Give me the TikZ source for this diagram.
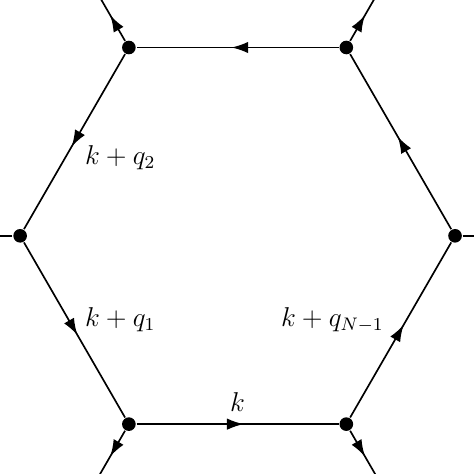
\documentclass[tikz,border=0pt]{standalone}
\usetikzlibrary{arrows.meta,decorations.markings}
\begin{document}
\begin{tikzpicture}[line width=0.8pt,
  vertex/.style={circle,fill,inner sep=0pt,minimum size=2.3mm},
  momentum/.style={font=\large,scale=1.09},
  mid arrow/.style={postaction={decorate,decoration={markings,
      mark=at position 0.53 with {\arrow{Latex[length=8pt,width=5.5pt]}}}}},
  leg arrow/.style={postaction={decorate,decoration={markings,
      mark=at position 0.5cm with {\arrow{Latex[length=8pt,width=5.5pt]}}}}}]
  \clip (-4.01,-4.02) rectangle (3.99,3.98);
  % vertices of the loop and the ends of the external legs
  \foreach \A [count=\Z] in {240,300,0,60,120,180}
  {\node[vertex] (V\Z) at (\A:3.67) {};
   \coordinate (E\Z) at (\A:5.2);}
  % propagators of the loop
  \foreach \Z/\W in {1/2,2/3,3/4,4/5,5/6,6/1}
  {\draw[mid arrow] (V\Z) -- (V\W);}
  % external legs
  \foreach \Z in {1,2,4,5}
  {\draw[leg arrow] (V\Z) -- (E\Z);}
  \foreach \Z in {3,6}
  {\draw (V\Z) -- (E\Z);}
  % momenta
  \node[momentum] (p0) at (0,-2.80) {$k$};
  \node[momentum] (p1) at (-1.98,-1.42) {$k+q_1$};
  \node[momentum] (p2) at (-1.98,1.32) {$k+q_2$};
  \node[momentum] (pN) at (1.60,-1.42) {$k+q_{N-1}$};
\end{tikzpicture}
\end{document}
